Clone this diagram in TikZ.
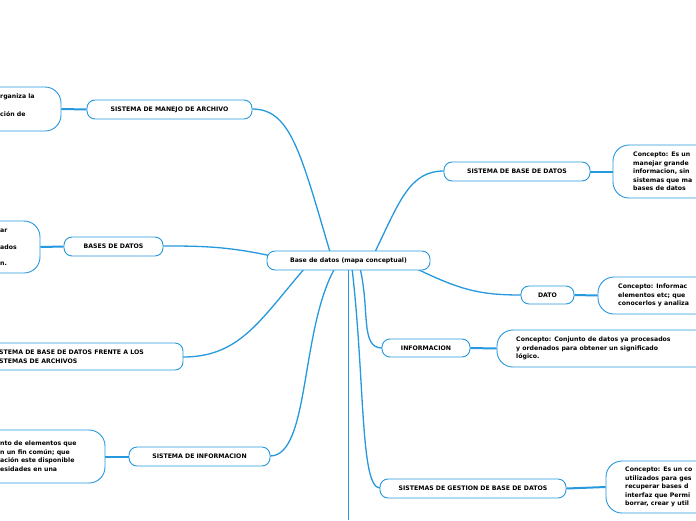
\documentclass[tikz,border=0pt]{standalone}
\usepackage{fontspec}
\setmainfont{DejaVu Sans}
\usetikzlibrary{calc}
\definecolor{mb}{RGB}{38,152,222}
\begin{document}
\begin{tikzpicture}[x=1pt,y=-1pt,
  box/.style={draw=mb,line width=0.9pt,fill=white,rounded corners=8pt,font=\fontsize{6.2}{7.5}\selectfont\bfseries,inner sep=0pt},
  note/.style={draw=mb,line width=0.9pt,fill=white,rounded corners=16pt,inner sep=0pt},
  txt/.style={font=\fontsize{6.2}{8.5}\selectfont\bfseries,align=left,inner sep=0pt,anchor=west},
  conn/.style={draw=mb,line width=1.3pt},
  link/.style={draw=mb,line width=2pt}]
\useasboundingbox (0,0) rectangle (696,520);
\clip (0,0) rectangle (696,520);
% connectors from centre
\draw[conn] (330,252) .. controls (300,150) and (290,109) .. (252,109);
\draw[conn] (280,258) .. controls (230,246) and (200,246) .. (163,246);
\draw[conn] (305,268) .. controls (260,320) and (240,357) .. (183,357);
\draw[conn] (335,268) .. controls (300,330) and (310,456) .. (270,456);
\draw[conn] (375,252) .. controls (400,200) and (410,171) .. (444,171);
\draw[conn] (415,268) .. controls (460,290) and (480,295) .. (521,295);
\draw[conn] (360,268) .. controls (370,310) and (360,348) .. (382,348);
\draw[conn] (352,268) .. controls (365,380) and (360,488) .. (380,488);
\draw[conn,line width=1pt] (348,268) -- (348,520);
% central
\node[box,minimum width=163pt,minimum height=19pt] (c) at (348.5,260.5) {Base de datos (mapa conceptual)};
% left side
\node[note,minimum width=120pt,minimum height=44pt] (n1) at (1,109) {};
\node[txt] at (0,97) {rganiza la};
\node[txt] at (0,114) {ción de};
\node[box,minimum width=165pt,minimum height=19pt] (b1) at (169.5,109.5) {SISTEMA DE MANEJO DE ARCHIVO};
\draw[link] (n1.east) -- (b1.west);

\node[note,minimum width=100pt,minimum height=52pt] (n2) at (-10,247) {};
\node[txt] at (0,231) {ar};
\node[txt] at (0,247) {ados};
\node[txt] at (0,264) {n.};
\node[box,minimum width=99pt,minimum height=19pt] (b2) at (113.5,246.5) {BASES DE DATOS};
\draw[link] (n2.east) -- (b2.west);

\node[box,minimum width=220pt,minimum height=27pt] (b3) at (73,356.5) {};
\node[txt] at (-1,356.5) {STEMA DE BASE DE DATOS FRENTE A LOS\\STEMAS DE ARCHIVOS};

\node[note,minimum width=200pt,minimum height=53pt] (n4) at (5,456.5) {};
\node[txt] at (0,456) {nto de elementos que\\n un fin común; que\\ación este disponible\\esidades en una};
\node[box,minimum width=141pt,minimum height=19pt] (b4) at (199.5,456.5) {SISTEMA DE INFORMACION};
\draw[link] (n4.east) -- (b4.west);
% right side
\node[box,minimum width=146pt,minimum height=19pt] (r1) at (517,171.5) {SISTEMA DE BASE DE DATOS};
\node[note,minimum width=160pt,minimum height=53pt] (m1) at (693,171.5) {};
\node[txt] at (633,171.5) {Concepto: Es un\\manejar grande\\informacion, sin\\sistemas que ma\\bases de datos};
\draw[link] (r1.east) -- (m1.west);

\node[box,minimum width=53pt,minimum height=18pt] (r2) at (547.5,295) {DATO};
\node[note,minimum width=180pt,minimum height=37pt] (m2) at (688,295.5) {};
\node[txt] at (618,295.5) {Concepto: Informac\\elementos etc; que\\conocerlos y analiza};
\draw[link] (r2.east) -- (m2.west);

\node[box,minimum width=88pt,minimum height=18pt] (r3) at (426,348) {INFORMACION};
\node[note,minimum width=220pt,minimum height=37pt] (m3) at (607,348.5) {};
\node[txt] at (516,348.5) {Concepto: Conjunto de datos ya procesados\\y ordenados para obtener un significado\\lógico.};
\draw[link] (r3.east) -- (m3.west);

\node[box,minimum width=186pt,minimum height=19pt] (r4) at (473,488.5) {SISTEMAS DE GESTION DE BASE DE DATOS};
\node[note,minimum width=180pt,minimum height=52pt] (m4) at (696,487) {};
\node[txt] at (625,487) {Concepto: Es un co\\utilizados para ges\\recuperar bases d\\interfaz que Permi\\borrar, crear y util};
\draw[link] (r4.east) -- (m4.west);
\end{tikzpicture}
\end{document}
